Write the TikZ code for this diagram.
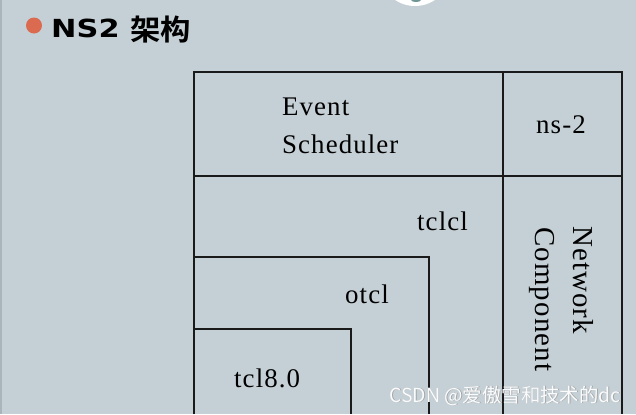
\documentclass[tikz,border=0pt]{standalone}
\usepackage{fontspec}
\usepackage{graphicx}
\setmainfont{Liberation Serif}
\newfontfamily\boxfont[LetterSpace=4]{Liberation Serif}
\newfontfamily\titlefont{DejaVu Sans}
\newfontfamily\cjkbold{Noto Sans CJK SC Bold}
\newfontfamily\cjkmark{Noto Sans CJK SC}
\definecolor{bgc}{HTML}{C5D0D6}
\definecolor{bulletc}{HTML}{DA6A50}
\definecolor{linec}{HTML}{1A1A1A}
\definecolor{tealc}{HTML}{6F9694}
\definecolor{edgec}{HTML}{A9B5BB}
\tikzset{
  frame/.style={draw=linec, line width=1.1bp},
  lbl/.style={inner sep=0pt, anchor=base west, font=\boxfont\fontsize{27}{27}\selectfont, text=black},
  vlbl/.style={lbl, rotate=-90, font=\boxfont\fontsize{29}{29}\selectfont},
  ttlstyle/.style={inner sep=0pt, anchor=base west, font=\titlefont\bfseries\fontsize{25}{25}\selectfont, text=black},
  cjkstyle/.style={inner sep=0pt, anchor=base west, font=\cjkbold\fontsize{29}{29}\selectfont, text=black},
  wm/.style={inner sep=0pt, anchor=base west, font=\cjkmark\fontsize{19.5}{19.5}\selectfont}
}
\begin{document}
\begin{tikzpicture}[x=1bp, y=-1bp]
\useasboundingbox (0,0) rectangle (636,414);
\fill[bgc] (0,0) rectangle (636,414);
\draw[edgec, line width=1.5bp] (1,0) -- (1,414);
% white disc at top
\begin{scope}
\clip (0,0) rectangle (636,414);
\fill[white] (415,-30) circle (36);
\fill[tealc] (416,0) ellipse (5 and 2);
\end{scope}
% title
\fill[bulletc] (34,25.5) circle (8);
\node[ttlstyle] (ttl) at (51,37.5) {\scalebox{1.22}[1]{NS2}};
\node[cjkstyle] (ttlcn) at (130,40) {\scalebox{1.05}[1]{架构}};
% frames
\draw[frame] (194,414) -- (194,72) -- (622,72) -- (622,414);
\draw[frame] (503,72) -- (503,414);
\draw[frame] (194,176) -- (622,176);
\draw[frame] (194,257) -- (429,257) -- (429,414);
\draw[frame] (194,329) -- (351,329) -- (351,414);
% labels
\node[lbl] (ev) at (282,115) {Event};
\node[lbl] (sch) at (282,153) {Scheduler};
\node[lbl, anchor=base] (ns) at (561,133) {ns-2};
\node[lbl] (tclcl) at (417,230) {tclcl};
\node[lbl] (otcl) at (345,303) {otcl};
\node[lbl] (tcl) at (234,387) {tcl8.0};
\node[vlbl] (net) at (573,226) {Network};
\node[vlbl] (comp) at (535,227) {Component};
% watermark
\node[wm, text=gray!70] (wm1) at (389.8,402.8) {CSDN @爱傲雪和技术的dc};
\node[wm, text=white!92!bgc] (wm2) at (389,402) {CSDN @爱傲雪和技术的dc};
\end{tikzpicture}
\end{document}
